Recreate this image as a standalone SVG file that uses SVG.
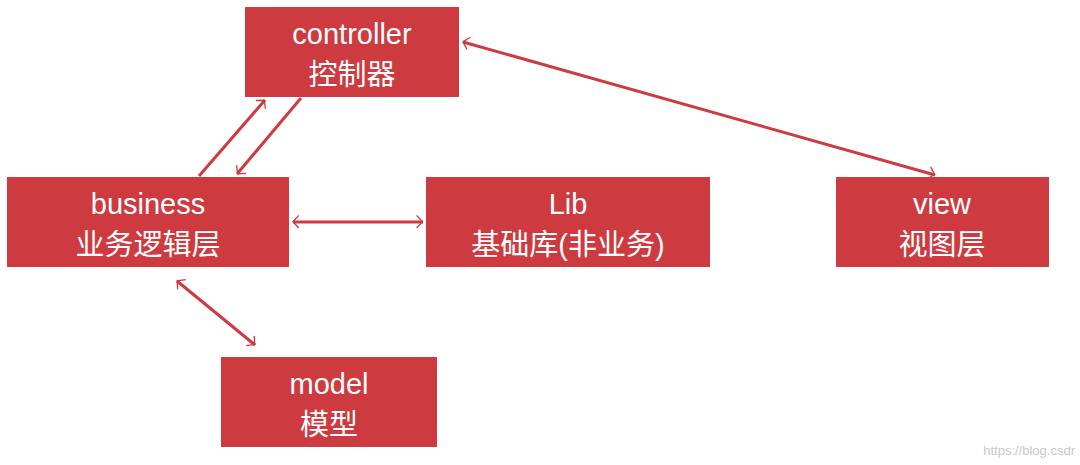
<svg xmlns="http://www.w3.org/2000/svg" width="1080" height="465" viewBox="0 0 1080 465">
<style>
.n{fill:#cd3a40}
.t{fill:#fff;font-family:"Liberation Sans","Noto Sans CJK SC",sans-serif;font-size:29px;text-anchor:middle}
.c{stroke:#cd3a40;stroke-width:3;fill:none;marker-end:url(#a)}
.b{marker-start:url(#s)}
</style>
<defs>
<marker id="a" viewBox="0 0 12 12" refX="11" refY="6" markerWidth="6" markerHeight="6" orient="auto" markerUnits="userSpaceOnUse" overflow="visible"><path d="M-2,-8 L11,6 L-2,20" stroke="#cd3a40" stroke-width="3" fill="none" transform="scale(0.9)"/></marker>
<marker id="s" viewBox="0 0 12 12" refX="1" refY="6" markerWidth="6" markerHeight="6" orient="auto" markerUnits="userSpaceOnUse" overflow="visible"><path d="M14,-8 L1,6 L14,20" stroke="#cd3a40" stroke-width="3" fill="none" transform="scale(0.9)"/></marker>
</defs>
<rect width="1080" height="465" fill="#fff"/>
<g id="controller"><rect class="n" x="245" y="7" width="214" height="90"/><text class="t" x="352" y="44">controller</text><text class="t" x="352" y="85">控制器</text></g>
<g id="business"><rect class="n" x="7" y="177" width="282" height="90"/><text class="t" x="148" y="214">business</text><text class="t" x="148" y="255">业务逻辑层</text></g>
<g id="lib"><rect class="n" x="426" y="177" width="284" height="90"/><text class="t" x="568" y="214">Lib</text><text class="t" x="568" y="255">基础库(非业务)</text></g>
<g id="view"><rect class="n" x="836" y="177" width="213" height="90"/><text class="t" x="942" y="214">view</text><text class="t" x="942" y="255">视图层</text></g>
<g id="model"><rect class="n" x="221" y="357" width="216" height="90"/><text class="t" x="329" y="394">model</text><text class="t" x="329" y="435">模型</text></g>
<g id="connectors">
<line class="c b" x1="463" y1="42" x2="935" y2="175"/>
<line class="c" x1="199" y1="176" x2="265" y2="100"/>
<line class="c" x1="301" y1="98" x2="237" y2="174"/>
<line class="c b" x1="293" y1="222" x2="423" y2="222"/>
<line class="c b" x1="177" y1="281" x2="255" y2="345"/>
</g>
<text x="1075" y="455" font-family="Liberation Sans,sans-serif" font-size="13" fill="#c8c8c8" text-anchor="end">https://blog.csdr</text>
</svg>
